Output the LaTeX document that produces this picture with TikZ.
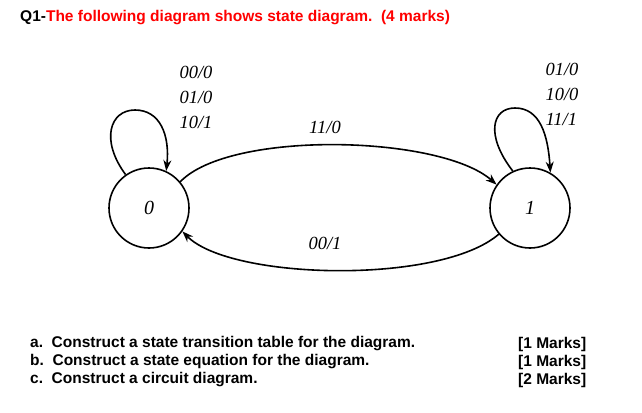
\documentclass[tikz,border=0pt]{standalone}
\usepackage{fontspec}
\setmainfont{Liberation Serif}
\newfontfamily\arial{Liberation Sans}
\usetikzlibrary{arrows.meta}
\begin{document}
\begin{tikzpicture}[x=1pt,y=-1pt,
  st/.style={draw,circle,minimum size=80pt,line width=1.6pt,inner sep=0pt,font=\fontsize{20}{20}\selectfont\itshape},
  lab/.style={font=\fontsize{18.5}{25}\selectfont\itshape,align=left},
  txt/.style={font=\arial\bfseries\fontsize{15.5}{18}\selectfont,anchor=west,inner sep=0pt},
  arr/.style={line width=1.6pt,-{Stealth[length=11pt,width=8pt]}}]
\useasboundingbox (0,0) rectangle (642,412);
\node[txt] (t) at (20,18) {Q1-\textcolor{red}{The following diagram shows state diagram.\ \ (4 marks)}};
\node[st] (s0) at (149,208) {0};
\node[st] (s1) at (530,208) {1};
\node[lab] (l0) at (196,97) {00/0\\01/0\\10/1};
\node[lab] (l1) at (562,94) {01/0\\10/0\\11/1};
\node[lab] (a) at (325,127) {11/0};
\node[lab] (b) at (325,243) {00/1};
\draw[arr] (s0.40) .. controls (230,130) and (440,135) .. (s1.145);
\draw[arr] (s1.-140) .. controls (440,285) and (230,280) .. (s0.-35);
\draw[arr] (s0.125) .. controls (100,140) and (110,110) .. (135,110) .. controls (160,110) and (170,135) .. (s0.65);
\draw[arr] (s1.115) .. controls (485,135) and (492,108) .. (515,108) .. controls (540,108) and (548,135) .. (s1.60);
\node[txt] (qa) at (30,344) {a.\ \ Construct a state transition table for the diagram.};
\node[txt] (qb) at (30,362) {b.\ \ Construct a state equation for the diagram.};
\node[txt] (qc) at (30,380) {c.\ \ Construct a circuit diagram.};
\node[txt] (ma) at (518,344) {[1 Marks]};
\node[txt] (mb) at (518,362) {[1 Marks]};
\node[txt] (mc) at (518,380) {[2 Marks]};
\end{tikzpicture}
\end{document}
